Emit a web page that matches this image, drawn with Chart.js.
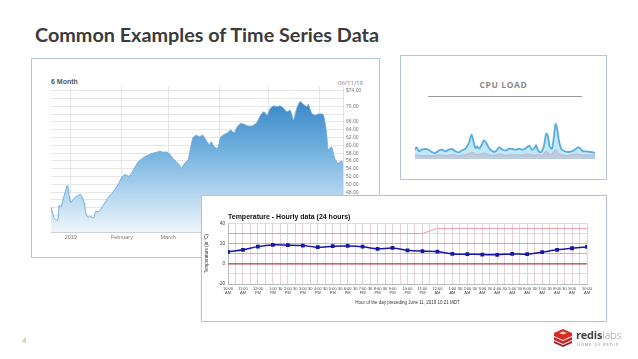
<!DOCTYPE html>
<html>
<head>
<meta charset="utf-8">
<script src="https://cdn.jsdelivr.net/npm/chart.js@4.4.1/dist/chart.umd.min.js"></script>
<style>
  html, body { margin: 0; padding: 0; background: #fff; }
  body { width: 638px; height: 359px; position: relative; overflow: hidden; font-family: "Open Sans", Arial, sans-serif; }
  .abs { position: absolute; }
  .panel { position: absolute; background: #fff; border: 1.5px solid #b3c5d8; box-sizing: border-box; }
  #title { left: 35px; top: 22px; font-family: Lato, sans-serif; font-weight: bold; font-size: 19.8px; color: #3b3b3b; white-space: nowrap; }
  #p1 { left: 31px; top: 58px; width: 349px; height: 200px; }
  #p2 { left: 400px; top: 55px; width: 207px; height: 125px; }
  #p3 { left: 201px; top: 195px; width: 406px; height: 127px; box-shadow: 0 0 1px #c8d6e4; }
  .small { font-size: 6px; color: #777; white-space: nowrap; }
</style>
</head>
<body>
<div id="title" class="abs">Common Examples of Time Series Data</div>

<div id="p1" class="panel"></div>
<div class="abs" style="left:51px;top:78px;font-size:7px;font-weight:bold;color:#555;font-family:'Liberation Sans Narrow','Liberation Sans',sans-serif;">6 Month</div>
<div class="abs small" style="left:338px;top:79px;">06/11/19</div>
<div class="abs" style="left:51px;top:80px;width:310px;height:165px;"><canvas id="priceChart"></canvas></div>

<div id="p2" class="panel"></div>
<div class="abs" style="left:400px;top:79px;width:207px;text-align:center;font-size:8.5px;font-weight:bold;letter-spacing:0.6px;color:#8a8a8a;">CPU LOAD</div>
<div class="abs" style="left:428px;top:96px;width:154px;height:1px;background:#9a9a9a;"></div>
<div class="abs" style="left:415px;top:99px;width:180px;height:60px;"><canvas id="cpuChart"></canvas></div>

<div id="p3" class="panel"></div>
<div class="abs" style="left:203px;top:211px;width:397px;height:94px;"><canvas id="tempChart"></canvas></div>

<div class="abs" style="left:22px;top:334px;font-size:8px;color:#aaa;">4</div>
<svg class="abs" style="left:553px;top:329px;" width="20" height="18" viewBox="0 0 20 18">
  <path d="M1 12 L10 16 L19 12 L19 14 L10 18 L1 14 Z" fill="#a41e22"/>
  <path d="M1 8 L10 12 L19 8 L19 11 L10 15 L1 11 Z" fill="#c9282d"/>
  <path d="M1 4 L10 0 L19 4 L19 7 L10 11 L1 7 Z" fill="#d82c20"/>
  <path d="M6 4 L10 2.5 L14 4 L10 5.5 Z" fill="#fff" opacity="0.8"/>
</svg>
<div class="abs" style="left:576px;top:327px;font-size:11px;color:#444;white-space:nowrap;letter-spacing:-0.2px;"><b>redis</b><span style="color:#999;font-weight:300;">labs</span></div>
<div class="abs" style="left:577px;top:342px;font-size:4px;letter-spacing:0.9px;color:#888;white-space:nowrap;">HOME OF REDIS</div>

<script>
// ---- 6 month price (days from Jan 1 2019) ----
var priceDays = [-12,-10,-8,-7,-6,-4,-2,-1,0,2, 4,6,8,9,10,12,14,15,17,19,
  21,23,25,27,29,31,33,35,37,39, 41,43,45,47,49,52,54,56,58,60,
  62,64,66,67,69,71,72,74,76,78, 80,82,84,85,87,89,91,93,95,97,
  99,101,103,105,107,109,111,113,115,117, 119,121,123,125,127,129,131,133,135,137,
  139,141,143,144,146,148,150,153,155,156, 158,160,162,164,165];
var prices = [44.2,41.3,40.8,44.7,44.2,47.2,49.8,47.2,45.4,46.4, 47.1,47.4,45.5,43.0,41.7,41.7,41.4,43.0,43.0,44.2,
  45.5,46.8,47.7,48.9,50.2,51.9,52.5,52.1,53.0,54.5, 55.8,56.5,57.1,57.5,57.9,58.2,58.5,58.2,58.3,57.7,
  56.6,55.8,54.9,54.1,55.4,56.2,57.9,61.9,62.6,62.2, 62.6,61.3,60.1,60.9,59.6,59.2,62.2,62.8,63.2,63.9,
  63.2,64.8,65.6,65.4,65.0,64.9,65.2,66.0,67.7,68.6, 67.7,69.5,70.1,69.9,70.1,69.5,68.6,69.0,66.5,69.5,
  71.2,70.5,69.9,70.5,68.2,67.7,68.0,67.9,63.2,58.8, 59.6,56.6,55.4,56.0,55.6];
var monthTicks = [0, 31, 59, 90, 120, 151];
var monthLabels = ['2019', 'February', 'March', 'April', 'May', 'June'];
var priceGrid = [38,40,42,44,46,48,50,52,54,56,58,60,62,64,66,68,70,72,74];
var priceLabels = [74,70,66,64,62,60,58,56,54,52,50,48];

// ---- CPU load (sample offset, load) ----
var cpuTimesA = [0,5,12,20,30,40,50,60,70,80, 90,100,110,120,130,140,150,160,168,175,
  180,185,190,198,205,212,220,230,240,250, 260,270,280,290,300,310,320,330,340,347,
  355,360,367,375,383,390,395,400,407,413, 418,423,428,435,445,455,465,475,485,492,
  500,510,520,530,535];
var cpuLoadA = [9.3,11.7,7.7,9.3,10,9.3,7,6,8.3,9.3, 7.7,9.3,10,7.7,6.7,8.7,10.3,16,24.3,16,
  11,12.7,10.3,13.7,18.7,16,11,7.7,7.7,11.7, 9.3,8.7,10.3,10,9.3,10.3,9.3,11,13.3,9.3,
  11,13.7,7.7,7,12.7,25.3,22.7,12.7,10.3,22.7, 35,29.3,17.7,10,7.7,7,7.7,9.3,11.7,10.3,
  7.7,7.7,7,6.7,6];
var cpuTimesB = [0,10,20,30,40,50,60,70,80,90, 100,110,120,130,140,150,160,168,175,185,
  195,205,215,225,235,245,255,265,275,285, 295,305,315,325,335,345,355,365,375,383,
  390,397,405,412,418,425,432,440,450,460, 470,480,490,500,510,520,535];
var cpuLoadB = [4.3,3.7,3.3,3.3,3.3,3,3.3,3.7,3.7,3.3, 3.7,4.3,3.7,3.3,3.7,4.3,5.3,6.7,5.3,4.3,
  5,5.7,4.7,3.7,3.7,4.3,5,3.7,3.7,4.3, 3.7,4.3,3.7,4.3,4.7,4.3,3.7,4.3,3.3,5,
  7.7,5.3,4.3,6.7,9.3,6,4.3,3.7,3.3,3.7, 4.3,5,4.3,3.7,4,3.7,3.7];

// ---- Temperature, hours after 10:00 AM ----
var tempHours = [0,1,2,3,4,5,6,7,8,9,10,11,12,13,14,15,16,17,18,19,20,21,22,23,24];
var temps = [11.8,13.8,17.0,18.7,18.4,18.0,16.4,17.4,17.7,17.0,14.8,15.7,13.4,12.5,12.1,9.8,9.5,9.2,8.9,9.8,9.5,11.5,13.8,15.4,16.7];
var upperLimitHours = [0, 13, 14, 24];
var upperLimit = [30, 30, 35, 35];
var lowerLimitHours = [0, 24];
var lowerLimit = [0, 0];
var hourLabels = ['10:00 AM','11:00 AM','12:00 PM','1:00 PM','2:00 PM','3:00 PM','4:00 PM','5:00 PM','6:00 PM',
  '7:00 PM','8:00 PM','9:00 PM','10:00 PM','11:00 PM','12:00 AM','1:00 AM','2:00 AM','3:00 AM','4:00 AM',
  '5:00 AM','6:00 AM','7:00 AM','8:00 AM','9:00 AM','10:00 AM'];
var halfHourMarks = [3.5,4.5,5.5,6.5,7.5,8.5,9.5,10.5,15.5,16.5,17.5,18.5,19.5,20.5,21.5,22.5];
var tempTicks = [-20,-10,0,10,20,30,40];
var tempLabels = [-20,0,20,40];

function zip(xs, ys) {
    return xs.map(function(x, i) { return {x: x, y: ys[i]}; });
}

Chart.defaults.font.family = "'Liberation Sans', Arial, sans-serif";
Chart.defaults.animation = false;

// price chart
new Chart(document.getElementById('priceChart'), {
    type: 'line',
    data: {
        datasets: [{
            data: zip(priceDays, prices),
            borderColor: 'rgb(112,172,218)',
            borderWidth: 1,
            pointRadius: 0,
            tension: 0.2,
            fill: 'start',
            backgroundColor: function(ctx) {
                var area = ctx.chart.chartArea;
                if (!area) return 'rgba(80,150,210,0.6)';
                var g = ctx.chart.ctx.createLinearGradient(0, area.top, 0, area.bottom);
                g.addColorStop(0, 'rgb(40,122,192)');
                g.addColorStop(0.45, 'rgb(115,178,224)');
                g.addColorStop(1, 'rgb(238,246,252)');
                return g;
            }
        }]
    },
    options: {
        responsive: true,
        maintainAspectRatio: false,
        layout: { padding: { top: 6, left: 0, right: 0, bottom: 0 } },
        plugins: { legend: { display: false }, tooltip: { enabled: false } },
        scales: {
            x: {
                type: 'linear', min: -12, max: 165,
                afterBuildTicks: function(scale) {
                    scale.ticks = monthTicks.map(function(v) { return {value: v}; });
                },
                afterFit: function(scale) { scale.height = 13; },
                ticks: {
                    font: { size: 5.5 }, color: '#777', padding: 2, maxRotation: 0, autoSkip: false,
                    callback: function(v) { return monthLabels[monthTicks.indexOf(v)]; }
                },
                grid: { color: '#e4e4e4', drawTicks: false },
                border: { color: '#d0d0d0' }
            },
            y: {
                position: 'right', min: 37.8, max: 75.2,
                afterBuildTicks: function(scale) {
                    scale.ticks = priceGrid.map(function(v) { return {value: v}; });
                },
                afterFit: function(scale) { scale.width = 18; },
                ticks: {
                    font: { size: 5 }, color: '#777', padding: 3, autoSkip: false,
                    callback: function(v) {
                        if (priceLabels.indexOf(v) < 0) return '';
                        return (v === 74 ? '$' : '') + v.toFixed(2);
                    }
                },
                grid: { color: '#e6e6e6', drawTicks: false },
                border: { color: '#e0e0e0' }
            }
        }
    }
});

// cpu chart
new Chart(document.getElementById('cpuChart'), {
    type: 'line',
    data: {
        datasets: [{
            data: zip(cpuTimesA, cpuLoadA),
            borderColor: 'rgb(88,172,222)',
            borderWidth: 1.8,
            backgroundColor: 'rgba(175,224,246,0.75)',
            fill: 'origin',
            pointRadius: 0,
            tension: 0.3,
            clip: false
        }, {
            data: zip(cpuTimesB, cpuLoadB),
            borderColor: 'rgb(228,96,108)',
            borderWidth: 1.5,
            backgroundColor: 'rgba(222,132,150,0.88)',
            fill: 'origin',
            pointRadius: 0,
            tension: 0.3,
            clip: false
        }]
    },
    options: {
        responsive: true,
        maintainAspectRatio: false,
        layout: { padding: 0 },
        plugins: { legend: { display: false }, tooltip: { enabled: false } },
        scales: {
            x: { type: 'linear', min: 0, max: 535, display: false },
            y: { min: 0, max: 60, display: false }
        }
    }
});

// temperature chart
new Chart(document.getElementById('tempChart'), {
    type: 'line',
    data: {
        datasets: [{
            data: zip(upperLimitHours, upperLimit),
            borderColor: 'rgba(236,150,160,0.9)',
            borderWidth: 1,
            pointRadius: 0,
            tension: 0
        }, {
            data: zip(lowerLimitHours, lowerLimit),
            borderColor: 'rgb(176,70,80)',
            borderWidth: 1.2,
            pointRadius: 0,
            tension: 0
        }, {
            data: zip(tempHours, temps),
            borderColor: 'rgb(24,24,165)',
            backgroundColor: 'rgb(24,24,165)',
            borderWidth: 1.5,
            pointStyle: 'rect',
            pointRadius: 1.6,
            tension: 0.3
        }]
    },
    options: {
        responsive: true,
        maintainAspectRatio: false,
        layout: { padding: { left: 0, right: 13, top: 0, bottom: 0 } },
        plugins: {
            legend: { display: false },
            tooltip: { enabled: false },
            title: {
                display: true, text: 'Temperature - Hourly data (24 hours)',
                align: 'start', fullSize: false, color: '#111',
                font: { size: 7, weight: 'bold' }, padding: { top: 2, bottom: 2 }
            }
        },
        scales: {
            x: {
                type: 'linear', min: 0, max: 24,
                afterBuildTicks: function(scale) {
                    var t = [];
                    for (var h = 0; h <= 24; h += 0.5) t.push({value: h});
                    scale.ticks = t;
                },
                afterFit: function(scale) { scale.height = 21; },
                ticks: {
                    font: { size: 4 }, color: '#444', padding: 2, maxRotation: 0, autoSkip: false,
                    callback: function(v) {
                        if (v % 1 === 0) return hourLabels[v].split(' ');
                        return halfHourMarks.indexOf(v) >= 0 ? '30' : '';
                    }
                },
                grid: { color: 'rgba(228,196,204,0.8)', drawTicks: false },
                border: { color: '#bbb' },
                title: {
                    display: true, text: 'Hour of the day preceding June 11, 2019 10:21 MDT',
                    font: { size: 4.5 }, color: '#333', padding: { top: 2, bottom: 0 }
                }
            },
            y: {
                min: -20, max: 40,
                afterBuildTicks: function(scale) {
                    scale.ticks = tempTicks.map(function(v) { return {value: v}; });
                },
                afterFit: function(scale) { scale.width = 25; },
                ticks: {
                    font: { size: 4.5 }, color: '#333', padding: 3, autoSkip: false,
                    callback: function(v) { return tempLabels.indexOf(v) >= 0 ? String(v) : ''; }
                },
                grid: {
                    drawTicks: false,
                    color: function(ctx) {
                        var v = ctx.tick && ctx.tick.value;
                        return (v === 20 || v === 10) ? 'rgba(130,130,225,0.6)' : 'rgba(210,205,215,0.7)';
                    }
                },
                border: { color: '#bbb' },
                title: {
                    display: true, text: 'Temperature (in °C)',
                    font: { size: 4.5 }, color: '#333', padding: 1
                }
            }
        }
    }
});
</script>
</body>
</html>
